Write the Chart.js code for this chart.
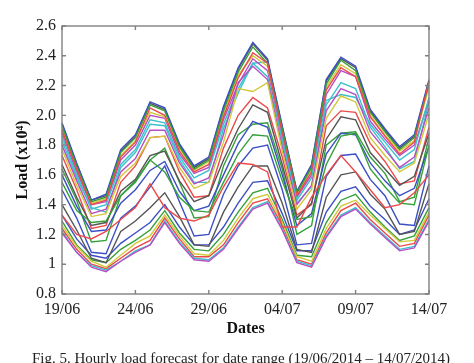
<!DOCTYPE html>
<html>
<head>
<meta charset="utf-8">
<script src="https://cdn.jsdelivr.net/npm/chart.js@4/dist/chart.umd.min.js"></script>
<style>
  html, body { margin: 0; padding: 0; background: #fff; overflow: hidden; }
  #wrap { position: relative; width: 474px; height: 363px; overflow: hidden; }
  #caption {
    position: absolute; left: 4px; top: 350px; width: 474px;
    text-align: center; font: 15px 'Liberation Serif', serif; line-height: 16px; color: #222;
    white-space: nowrap;
  }
</style>
</head>
<body>
<div id="wrap">
  <canvas id="loadChart" width="474" height="363"></canvas>
  <div id="caption">Fig. 5. Hourly load forecast for date range (19/06/2014 – 14/07/2014)</div>
</div>
<script>
const dates = ['19/06', '20/06', '21/06', '22/06', '23/06', '24/06', '25/06', '26/06', '27/06', '28/06',
    '29/06', '30/06', '01/07', '02/07', '03/07', '04/07', '05/07', '06/07', '07/07', '08/07',
    '09/07', '10/07', '11/07', '12/07', '13/07', '14/07'];
const yTickLabels = ['0.8', '1', '1.2', '1.4', '1.6', '1.8', '2.0', '2.2', '2.4', '2.6'];

// load in x10^4, one array per hour of the day
const hour01 = [1.33, 1.17, 1.06, 1.04, 1.14, 1.21, 1.28, 1.40, 1.25, 1.13, 1.13, 1.25, 1.41, 1.55, 1.56, 1.34, 1.09, 1.09, 1.35, 1.49, 1.52, 1.39, 1.30, 1.20, 1.23, 1.44];
const hour02 = [1.29, 1.13, 1.03, 1.01, 1.10, 1.16, 1.23, 1.36, 1.21, 1.10, 1.09, 1.20, 1.35, 1.48, 1.51, 1.30, 1.06, 1.05, 1.28, 1.43, 1.47, 1.35, 1.25, 1.16, 1.19, 1.38];
const hour03 = [1.24, 1.10, 1.00, 0.97, 1.04, 1.11, 1.16, 1.31, 1.17, 1.05, 1.05, 1.13, 1.28, 1.41, 1.44, 1.26, 1.03, 1.00, 1.21, 1.36, 1.41, 1.30, 1.21, 1.12, 1.14, 1.33];
const hour04 = [1.22, 1.08, 0.99, 0.96, 1.02, 1.09, 1.13, 1.29, 1.15, 1.04, 1.03, 1.11, 1.25, 1.38, 1.42, 1.24, 1.02, 0.99, 1.19, 1.33, 1.38, 1.28, 1.19, 1.10, 1.12, 1.30];
const hour05 = [1.21, 1.08, 0.98, 0.95, 1.02, 1.08, 1.13, 1.28, 1.14, 1.03, 1.02, 1.10, 1.24, 1.37, 1.41, 1.23, 1.01, 0.98, 1.18, 1.32, 1.37, 1.27, 1.18, 1.09, 1.11, 1.29];
const hour06 = [1.26, 1.12, 1.02, 0.98, 1.06, 1.14, 1.19, 1.33, 1.19, 1.07, 1.06, 1.16, 1.31, 1.44, 1.47, 1.28, 1.05, 1.02, 1.24, 1.39, 1.43, 1.33, 1.24, 1.15, 1.16, 1.35];
const hour07 = [1.40, 1.23, 1.04, 1.01, 1.22, 1.29, 1.38, 1.48, 1.32, 1.13, 1.12, 1.35, 1.52, 1.66, 1.66, 1.41, 1.10, 1.08, 1.45, 1.60, 1.62, 1.47, 1.37, 1.20, 1.22, 1.54];
const hour08 = [1.50, 1.31, 1.08, 1.07, 1.31, 1.39, 1.52, 1.66, 1.42, 1.19, 1.20, 1.47, 1.66, 1.78, 1.80, 1.50, 1.13, 1.14, 1.59, 1.73, 1.74, 1.57, 1.46, 1.27, 1.26, 1.66];
const hour09 = [1.64, 1.43, 1.15, 1.16, 1.46, 1.56, 1.70, 1.78, 1.55, 1.31, 1.32, 1.66, 1.87, 1.94, 1.95, 1.64, 1.20, 1.26, 1.80, 1.88, 1.89, 1.72, 1.61, 1.42, 1.45, 1.85];
const hour10 = [1.73, 1.50, 1.24, 1.26, 1.55, 1.66, 1.85, 1.86, 1.62, 1.45, 1.46, 1.78, 2.00, 2.12, 2.05, 1.72, 1.33, 1.40, 1.93, 2.03, 2.02, 1.81, 1.69, 1.54, 1.56, 1.92];
const hour11 = [1.83, 1.58, 1.38, 1.35, 1.65, 1.75, 1.94, 1.93, 1.70, 1.55, 1.55, 1.91, 2.15, 2.35, 2.36, 1.82, 1.41, 1.52, 2.07, 2.22, 2.18, 1.92, 1.79, 1.64, 1.69, 2.09];
const hour12 = [1.88, 1.62, 1.40, 1.42, 1.70, 1.80, 2.00, 1.98, 1.74, 1.61, 1.65, 1.97, 2.21, 2.38, 2.30, 1.86, 1.45, 1.60, 2.14, 2.30, 2.26, 1.96, 1.84, 1.73, 1.80, 2.10];
const hour13 = [1.91, 1.65, 1.41, 1.44, 1.73, 1.83, 2.02, 1.99, 1.78, 1.63, 1.69, 2.01, 2.27, 2.40, 2.33, 1.90, 1.47, 1.64, 2.19, 2.34, 2.28, 2.00, 1.87, 1.76, 1.83, 2.19];
const hour14 = [1.94, 1.67, 1.43, 1.46, 1.76, 1.86, 2.08, 2.04, 1.80, 1.65, 1.71, 2.05, 2.31, 2.48, 2.37, 1.92, 1.49, 1.66, 2.23, 2.38, 2.32, 2.03, 1.90, 1.78, 1.86, 2.23];
const hour15 = [1.95, 1.68, 1.43, 1.47, 1.77, 1.87, 2.09, 2.05, 1.81, 1.66, 1.72, 2.06, 2.32, 2.49, 2.38, 1.93, 1.49, 1.67, 2.24, 2.39, 2.33, 2.04, 1.91, 1.79, 1.87, 2.24];
const hour16 = [1.93, 1.66, 1.42, 1.45, 1.75, 1.85, 2.07, 2.03, 1.79, 1.64, 1.70, 2.03, 2.29, 2.46, 2.35, 1.91, 1.48, 1.65, 2.21, 2.37, 2.30, 2.02, 1.89, 1.77, 1.85, 2.21];
const hour17 = [1.90, 1.64, 1.40, 1.43, 1.72, 1.82, 2.05, 2.00, 1.76, 1.62, 1.67, 1.99, 2.25, 2.42, 2.35, 1.88, 1.46, 1.62, 2.17, 2.32, 2.26, 1.99, 1.86, 1.74, 1.82, 2.23];
const hour18 = [1.86, 1.60, 1.37, 1.40, 1.67, 1.77, 1.97, 1.95, 1.72, 1.58, 1.63, 1.94, 2.18, 2.35, 2.26, 1.84, 1.43, 1.58, 2.10, 2.14, 2.12, 1.94, 1.82, 1.70, 1.77, 2.12];
const hour19 = [1.80, 1.56, 1.34, 1.37, 1.62, 1.71, 1.90, 1.90, 1.68, 1.54, 1.58, 1.87, 2.22, 2.33, 2.24, 1.79, 1.40, 1.53, 2.03, 2.18, 2.14, 1.89, 1.77, 1.65, 1.72, 2.05];
const hour20 = [1.77, 1.53, 1.32, 1.34, 1.59, 1.68, 1.85, 1.86, 1.65, 1.51, 1.55, 1.82, 2.18, 2.16, 2.22, 1.76, 1.37, 1.50, 1.98, 2.13, 2.09, 1.85, 1.73, 1.62, 1.68, 2.01];
const hour21 = [1.67, 1.45, 1.26, 1.28, 1.49, 1.57, 1.73, 1.76, 1.56, 1.42, 1.46, 1.70, 1.91, 2.07, 2.02, 1.67, 1.31, 1.41, 1.84, 1.99, 1.97, 1.75, 1.64, 1.53, 1.59, 1.88];
const hour22 = [1.60, 1.39, 1.22, 1.23, 1.41, 1.50, 1.63, 1.69, 1.49, 1.36, 1.39, 1.60, 1.81, 1.96, 1.92, 1.60, 1.26, 1.34, 1.74, 1.88, 1.87, 1.68, 1.56, 1.46, 1.51, 1.79];
const hour23 = [1.55, 1.36, 1.28, 1.29, 1.46, 1.55, 1.70, 1.62, 1.45, 1.36, 1.35, 1.55, 1.74, 1.87, 1.86, 1.56, 1.30, 1.32, 1.67, 1.86, 1.88, 1.64, 1.52, 1.41, 1.40, 1.80];
const hour24 = [1.33, 1.20, 1.17, 1.22, 1.30, 1.38, 1.54, 1.38, 1.31, 1.29, 1.33, 1.52, 1.68, 1.67, 1.62, 1.25, 1.25, 1.45, 1.60, 1.73, 1.62, 1.50, 1.38, 1.40, 1.48, 1.60];

const hours = [hour01, hour02, hour03, hour04, hour05, hour06, hour07, hour08, hour09, hour10, hour11, hour12,
    hour13, hour14, hour15, hour16, hour17, hour18, hour19, hour20, hour21, hour22, hour23, hour24];

// matlab-ish colour order: b g r c m y k
const lineColors = ['#3d4fc4', '#36a03a', '#ec4a4a', '#3cc0cc', '#b74fc4', '#d2c83a', '#555555'];
const axisColor = '#808080';
const serif = "'Liberation Serif', 'DejaVu Serif', serif";

const boxTicks = {
    id: 'boxTicks',
    afterDatasetsDraw(chart) {
        const { ctx, chartArea: a, scales: { x, y } } = chart;
        ctx.save();
        ctx.strokeStyle = axisColor;
        ctx.lineWidth = 1.4;
        ctx.strokeRect(a.left, a.top, a.right - a.left, a.bottom - a.top);
        ctx.beginPath();
        x.ticks.forEach((t, i) => {
            if (i % 5 !== 0) return;
            const px = x.getPixelForTick(i);
            ctx.moveTo(px, a.bottom); ctx.lineTo(px, a.bottom - 4);
            ctx.moveTo(px, a.top); ctx.lineTo(px, a.top + 4);
        });
        y.ticks.forEach((t, i) => {
            const py = y.getPixelForTick(i);
            ctx.moveTo(a.left, py); ctx.lineTo(a.left + 4, py);
            ctx.moveTo(a.right, py); ctx.lineTo(a.right - 4, py);
        });
        ctx.stroke();
        ctx.restore();
    }
};

new Chart(document.getElementById('loadChart').getContext('2d'), {
    type: 'line',
    data: {
        labels: dates,
        datasets: hours.map((values, i) => ({
            label: 'Hour ' + (i + 1),
            data: values,
            borderColor: lineColors[i % lineColors.length],
            borderWidth: 1.4,
            pointRadius: 0,
            tension: 0,
            fill: false,
            order: hours.length - i
        }))
    },
    options: {
        responsive: false,
        animation: false,
        devicePixelRatio: 1,
        layout: { padding: { left: 0, top: 26, right: 45, bottom: 21 } },
        plugins: {
            legend: { display: false },
            tooltip: { enabled: false }
        },
        scales: {
            x: {
                type: 'category',
                offset: false,
                afterFit: s => { s.height = 48; },
                grid: { display: false, drawTicks: false },
                border: { display: false },
                ticks: {
                    autoSkip: false,
                    maxRotation: 0,
                    padding: 6,
                    color: '#222',
                    font: { family: serif, size: 16 },
                    callback: (v, i) => (i % 5 === 0 ? dates[i] : '')
                },
                title: {
                    display: true,
                    text: 'Dates',
                    color: '#111',
                    font: { family: serif, size: 16, weight: 'bold' },
                    padding: { top: 0, bottom: 4 }
                }
            },
            y: {
                min: 0.8,
                max: 2.6,
                afterFit: s => { s.width = 62; },
                grid: { display: false, drawTicks: false },
                border: { display: false },
                ticks: {
                    stepSize: 0.2,
                    padding: 6,
                    color: '#222',
                    font: { family: serif, size: 16 },
                    callback: (v, i) => yTickLabels[i]
                },
                title: {
                    display: true,
                    text: 'Load (x10⁴)',
                    color: '#111',
                    font: { family: serif, size: 16, weight: 'bold' },
                    padding: { top: 13, bottom: 0 }
                }
            }
        }
    },
    plugins: [boxTicks]
});
</script>
</body>
</html>
